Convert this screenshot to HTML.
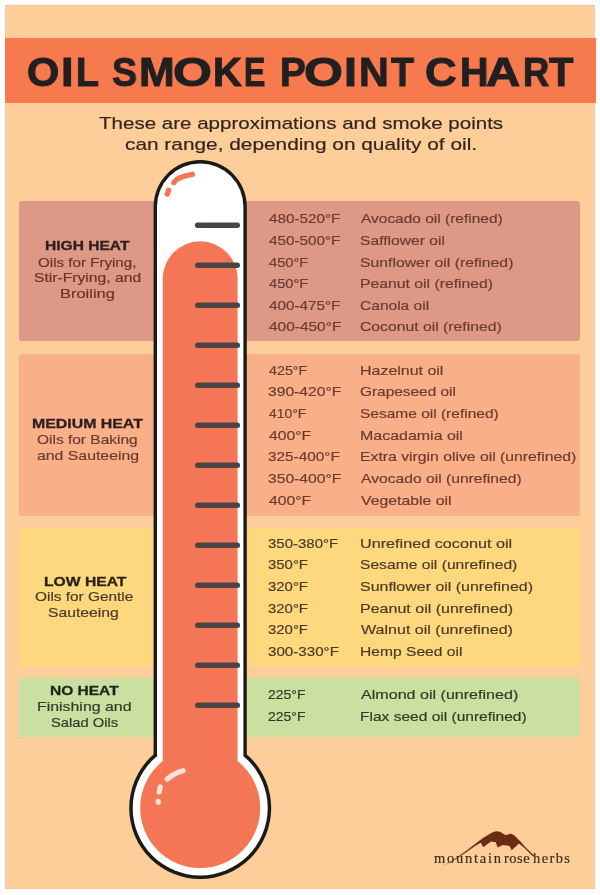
<!DOCTYPE html>
<html><head><meta charset="utf-8">
<style>
html,body{margin:0;padding:0;}
body{width:600px;height:895px;overflow:hidden;background:#fdfdfd;position:relative;font-family:"Liberation Sans",sans-serif;}
.abs{position:absolute;}
.t{position:absolute;will-change:transform;-webkit-text-stroke:0.18px currentColor;line-height:20px;white-space:nowrap;transform-origin:0 50%;}
</style></head><body>
<div class="abs" style="left:5px;top:5px;width:590px;height:884px;background:#fdce9a;box-shadow:inset 0 0 0 1px #f1cca0, 0 -1px 0 #fef6e6"></div>
<div class="abs" style="left:5px;top:38px;width:591px;height:65px;background:#f77a4e"></div>
<div class="abs" style="left:19px;top:201px;width:561px;height:139.5px;background:#de9886;border-radius:3px"></div>
<div class="abs" style="left:19px;top:353.5px;width:561px;height:162.5px;background:#f9af88;border-radius:3px"></div>
<div class="abs" style="left:19px;top:528px;width:561px;height:138px;background:#fed87e;border-radius:3px"></div>
<div class="abs" style="left:19px;top:678px;width:561px;height:58.5px;background:#c9e0a1;border-radius:3px"></div>

<svg class='abs' style='left:0;top:0' width='600' height='895'><path fill='#6b2a16' d='M441.5 866.5 Q455 860 475 844 L483.3 837.7 L491.7 832.7 Q496.7 830.5 500 831.8 L505.8 835.2 L510 833.7 Q512 833.5 514.2 835.2 L520 841 L525 846.8 L534.5 856 L533 856.5 L525 848.5 L519 843.5 L511.7 850.2 L509.5 846 L503 845 L497.5 847.5 L495.8 842.3 L491 841.5 L483.3 847.3 L480.8 842.7 L475 846 Q455 861 441.5 866.5 Z'/></svg>
<div class="t" style="left:26.63px;top:62.44px;font-size:40px;font-weight:bold;color:#231f20;-webkit-text-stroke:1.0px currentColor;transform:scaleX(1.0357)">O</div>
<div class="t" style="left:61.12px;top:62.44px;font-size:40px;font-weight:bold;color:#231f20;-webkit-text-stroke:1.0px currentColor;transform:scaleX(1.1250)">I</div>
<div class="t" style="left:75.94px;top:62.44px;font-size:40px;font-weight:bold;color:#231f20;-webkit-text-stroke:1.0px currentColor;transform:scaleX(0.9375)">L</div>
<div class="t" style="left:111.56px;top:62.44px;font-size:40px;font-weight:bold;color:#231f20;-webkit-text-stroke:1.0px currentColor;transform:scaleX(0.9375)">S</div>
<div class="t" style="left:139.29px;top:62.44px;font-size:40px;font-weight:bold;color:#231f20;-webkit-text-stroke:1.0px currentColor;transform:scaleX(1.0714)">M</div>
<div class="t" style="left:172.50px;top:62.44px;font-size:40px;font-weight:bold;color:#231f20;-webkit-text-stroke:1.0px currentColor;transform:scaleX(1.2500)">O</div>
<div class="t" style="left:213.25px;top:62.44px;font-size:40px;font-weight:bold;color:#231f20;-webkit-text-stroke:1.0px currentColor;transform:scaleX(1.0000)">K</div>
<div class="t" style="left:243.86px;top:62.44px;font-size:40px;font-weight:bold;color:#231f20;-webkit-text-stroke:1.0px currentColor;transform:scaleX(0.7955)">E</div>
<div class="t" style="left:279.60px;top:62.44px;font-size:40px;font-weight:bold;color:#231f20;-webkit-text-stroke:1.0px currentColor;transform:scaleX(0.9659)">P</div>
<div class="t" style="left:303.75px;top:62.44px;font-size:40px;font-weight:bold;color:#231f20;-webkit-text-stroke:1.0px currentColor;transform:scaleX(1.2500)">O</div>
<div class="t" style="left:344.00px;top:62.44px;font-size:40px;font-weight:bold;color:#231f20;-webkit-text-stroke:1.0px currentColor;transform:scaleX(1.1667)">I</div>
<div class="t" style="left:359.40px;top:62.44px;font-size:40px;font-weight:bold;color:#231f20;-webkit-text-stroke:1.0px currentColor;transform:scaleX(1.0326)">N</div>
<div class="t" style="left:391.25px;top:62.44px;font-size:40px;font-weight:bold;color:#231f20;-webkit-text-stroke:1.0px currentColor;transform:scaleX(0.9375)">T</div>
<div class="t" style="left:425.31px;top:62.44px;font-size:40px;font-weight:bold;color:#231f20;-webkit-text-stroke:1.0px currentColor;transform:scaleX(1.0962)">C</div>
<div class="t" style="left:459.75px;top:62.44px;font-size:40px;font-weight:bold;color:#231f20;-webkit-text-stroke:1.0px currentColor;transform:scaleX(0.9826)">H</div>
<div class="t" style="left:485.51px;top:62.44px;font-size:40px;font-weight:bold;color:#231f20;-webkit-text-stroke:1.0px currentColor;transform:scaleX(1.1852)">A</div>
<div class="t" style="left:522.58px;top:62.44px;font-size:40px;font-weight:bold;color:#231f20;-webkit-text-stroke:1.0px currentColor;transform:scaleX(0.9080)">R</div>
<div class="t" style="left:549.30px;top:62.44px;font-size:40px;font-weight:bold;color:#231f20;-webkit-text-stroke:1.0px currentColor;transform:scaleX(1.0000)">T</div>
<div class="t" style="left:99.00px;top:113.61px;font-size:17px;color:#33241d;transform:scaleX(1.2081)">These are approximations and smoke points</div>
<div class="t" style="left:124.57px;top:134.51px;font-size:17px;color:#33241d;transform:scaleX(1.2253)">can range, depending on quality of oil.</div>
<div class="t" style="left:45.25px;top:236.42px;font-size:13.5px;font-weight:bold;color:#2a1e1e;-webkit-text-stroke:0.3px currentColor;transform:scaleX(1.1528)">HIGH HEAT</div>
<div class="t" style="left:37.85px;top:252.53px;font-size:13.2px;color:#6a3328;transform:scaleX(1.1476)">Oils for Frying,</div>
<div class="t" style="left:34.21px;top:268.33px;font-size:13.2px;color:#6a3328;transform:scaleX(1.1886)">Stir-Frying, and</div>
<div class="t" style="left:60.35px;top:283.53px;font-size:13.2px;color:#6a3328;transform:scaleX(1.2476)">Broiling</div>
<div class="t" style="left:32.12px;top:414.12px;font-size:13.5px;font-weight:bold;color:#2a1e1e;-webkit-text-stroke:0.3px currentColor;transform:scaleX(1.1763)">MEDIUM HEAT</div>
<div class="t" style="left:36.73px;top:430.33px;font-size:13.2px;color:#6a3a2e;transform:scaleX(1.1738)">Oils for Baking</div>
<div class="t" style="left:36.70px;top:445.93px;font-size:13.2px;color:#6a3a2e;transform:scaleX(1.2000)">and Sauteeing</div>
<div class="t" style="left:43.64px;top:571.62px;font-size:13.5px;font-weight:bold;color:#2a2218;-webkit-text-stroke:0.3px currentColor;transform:scaleX(1.1600)">LOW HEAT</div>
<div class="t" style="left:35.33px;top:587.43px;font-size:13.2px;color:#4a3a20;transform:scaleX(1.1663)">Oils for Gentle</div>
<div class="t" style="left:48.41px;top:602.63px;font-size:13.2px;color:#4a3a20;transform:scaleX(1.1922)">Sauteeing</div>
<div class="t" style="left:49.85px;top:681.02px;font-size:13.5px;font-weight:bold;color:#1e261a;-webkit-text-stroke:0.3px currentColor;transform:scaleX(1.1483)">NO HEAT</div>
<div class="t" style="left:37.30px;top:697.43px;font-size:13.2px;color:#2e3a24;transform:scaleX(1.2045)">Finishing and</div>
<div class="t" style="left:50.58px;top:712.63px;font-size:13.2px;color:#2e3a24;transform:scaleX(1.1186)">Salad Oils</div>
<div class="t" style="left:269.40px;top:209.22px;font-size:13.5px;color:#6b3a30;transform:scaleX(1.1286)">480-520°F</div>
<div class="t" style="left:361.00px;top:209.22px;font-size:13.5px;color:#6b3a30;transform:scaleX(1.1463)">Avocado oil (refined)</div>
<div class="t" style="left:269.40px;top:230.86px;font-size:13.5px;color:#6b3a30;transform:scaleX(1.1286)">450-500°F</div>
<div class="t" style="left:359.84px;top:230.86px;font-size:13.5px;color:#6b3a30;transform:scaleX(1.1592)">Safflower oil</div>
<div class="t" style="left:269.40px;top:252.50px;font-size:13.5px;color:#6b3a30;transform:scaleX(1.0861)">450°F</div>
<div class="t" style="left:359.83px;top:252.50px;font-size:13.5px;color:#6b3a30;transform:scaleX(1.1682)">Sunflower oil (refined)</div>
<div class="t" style="left:269.40px;top:274.14px;font-size:13.5px;color:#6b3a30;transform:scaleX(1.0861)">450°F</div>
<div class="t" style="left:359.83px;top:274.14px;font-size:13.5px;color:#6b3a30;transform:scaleX(1.1670)">Peanut oil (refined)</div>
<div class="t" style="left:269.40px;top:295.78px;font-size:13.5px;color:#6b3a30;transform:scaleX(1.1286)">400-475°F</div>
<div class="t" style="left:359.85px;top:295.78px;font-size:13.5px;color:#6b3a30;transform:scaleX(1.1517)">Canola oil</div>
<div class="t" style="left:269.40px;top:317.42px;font-size:13.5px;color:#6b3a30;transform:scaleX(1.1444)">400-450°F</div>
<div class="t" style="left:359.83px;top:317.42px;font-size:13.5px;color:#6b3a30;transform:scaleX(1.1650)">Coconut oil (refined)</div>
<div class="t" style="left:269.40px;top:360.70px;font-size:13.5px;color:#6b3a2e;transform:scaleX(1.0583)">425°F</div>
<div class="t" style="left:359.82px;top:360.70px;font-size:13.5px;color:#6b3a2e;transform:scaleX(1.1826)">Hazelnut oil</div>
<div class="t" style="left:268.24px;top:382.34px;font-size:13.5px;color:#6b3a2e;transform:scaleX(1.1597)">390-420°F</div>
<div class="t" style="left:359.86px;top:382.34px;font-size:13.5px;color:#6b3a2e;transform:scaleX(1.1415)">Grapeseed oil</div>
<div class="t" style="left:269.40px;top:403.98px;font-size:13.5px;color:#6b3a2e;transform:scaleX(1.0333)">410°F</div>
<div class="t" style="left:359.85px;top:403.98px;font-size:13.5px;color:#6b3a2e;transform:scaleX(1.1479)">Sesame oil (refined)</div>
<div class="t" style="left:269.40px;top:425.62px;font-size:13.5px;color:#6b3a2e;transform:scaleX(1.1667)">400°F</div>
<div class="t" style="left:359.82px;top:425.62px;font-size:13.5px;color:#6b3a2e;transform:scaleX(1.1824)">Macadamia oil</div>
<div class="t" style="left:268.26px;top:447.26px;font-size:13.5px;color:#6b3a2e;transform:scaleX(1.1371)">325-400°F</div>
<div class="t" style="left:359.83px;top:447.26px;font-size:13.5px;color:#6b3a2e;transform:scaleX(1.1667)">Extra virgin olive oil (unrefined)</div>
<div class="t" style="left:268.24px;top:468.90px;font-size:13.5px;color:#6b3a2e;transform:scaleX(1.1597)">350-400°F</div>
<div class="t" style="left:361.00px;top:468.90px;font-size:13.5px;color:#6b3a2e;transform:scaleX(1.1594)">Avocado oil (unrefined)</div>
<div class="t" style="left:269.40px;top:490.54px;font-size:13.5px;color:#6b3a2e;transform:scaleX(1.1667)">400°F</div>
<div class="t" style="left:361.00px;top:490.54px;font-size:13.5px;color:#6b3a2e;transform:scaleX(1.1711)">Vegetable oil</div>
<div class="t" style="left:268.29px;top:533.82px;font-size:13.5px;color:#4a3a22;transform:scaleX(1.1113)">350-380°F</div>
<div class="t" style="left:359.80px;top:533.82px;font-size:13.5px;color:#4a3a22;transform:scaleX(1.2000)">Unrefined coconut oil</div>
<div class="t" style="left:268.29px;top:555.46px;font-size:13.5px;color:#4a3a22;transform:scaleX(1.1057)">350°F</div>
<div class="t" style="left:359.84px;top:555.46px;font-size:13.5px;color:#4a3a22;transform:scaleX(1.1582)">Sesame oil (unrefined)</div>
<div class="t" style="left:268.29px;top:577.10px;font-size:13.5px;color:#4a3a22;transform:scaleX(1.1057)">320°F</div>
<div class="t" style="left:359.82px;top:577.10px;font-size:13.5px;color:#4a3a22;transform:scaleX(1.1819)">Sunflower oil (unrefined)</div>
<div class="t" style="left:268.29px;top:598.74px;font-size:13.5px;color:#4a3a22;transform:scaleX(1.1057)">320°F</div>
<div class="t" style="left:359.81px;top:598.74px;font-size:13.5px;color:#4a3a22;transform:scaleX(1.1866)">Peanut oil (unrefined)</div>
<div class="t" style="left:268.29px;top:620.38px;font-size:13.5px;color:#4a3a22;transform:scaleX(1.1057)">320°F</div>
<div class="t" style="left:361.00px;top:620.38px;font-size:13.5px;color:#4a3a22;transform:scaleX(1.1890)">Walnut oil (unrefined)</div>
<div class="t" style="left:268.28px;top:642.02px;font-size:13.5px;color:#4a3a22;transform:scaleX(1.1226)">300-330°F</div>
<div class="t" style="left:359.84px;top:642.02px;font-size:13.5px;color:#4a3a22;transform:scaleX(1.1563)">Hemp Seed oil</div>
<div class="t" style="left:268.36px;top:685.30px;font-size:13.5px;color:#2e3a24;transform:scaleX(1.0371)">225°F</div>
<div class="t" style="left:361.00px;top:685.30px;font-size:13.5px;color:#2e3a24;transform:scaleX(1.1908)">Almond oil (unrefined)</div>
<div class="t" style="left:268.36px;top:706.94px;font-size:13.5px;color:#2e3a24;transform:scaleX(1.0371)">225°F</div>
<div class="t" style="left:359.85px;top:706.94px;font-size:13.5px;color:#2e3a24;transform:scaleX(1.1503)">Flax seed oil (unrefined)</div>
<div class="t" style="left:434.00px;top:847.61px;font-size:14.5px;color:#3c2a1c;font-family:'Liberation Serif',serif;letter-spacing:1.75px;transform:scaleX(1.0000)">mountain</div>
<div class="t" style="left:504.00px;top:847.61px;font-size:14.5px;color:#3c2a1c;font-family:'Liberation Serif',serif;letter-spacing:0.5px;transform:scaleX(1.0000)">rose</div>
<div class="t" style="left:532.50px;top:847.61px;font-size:14.5px;color:#3c2a1c;font-family:'Liberation Serif',serif;letter-spacing:1.4px;transform:scaleX(1.0000)">herbs</div>
<svg class="abs" style="left:0;top:0" width="600" height="895" viewBox="0 0 600 895">
<path d="M153.6 755 L153.6 206.6 A46.6 46.6 0 0 1 246.79999999999998 206.6 L246.79999999999998 755 Z" fill="#1c1a17"/>
<circle cx="200.2" cy="808" r="71" fill="#1c1a17"/>
<path d="M157.0 760 L157.0 206.6 A43.2 43.2 0 0 1 243.39999999999998 206.6 L243.39999999999998 760 Z" fill="#ffffff"/>
<circle cx="200.2" cy="808" r="67.5" fill="#ffffff"/>
<path d="M162.79999999999998 765 L162.79999999999998 278.7 A37.4 37.4 0 0 1 237.6 278.7 L237.6 765 Z" fill="#f57657"/>
<circle cx="200.2" cy="808" r="60" fill="#f57657"/>
<g stroke="#4a4544" stroke-width="5.4" stroke-linecap="round"><line x1="197.6" y1="225.3" x2="237.3" y2="225.3"/><line x1="197.6" y1="265.3" x2="237.3" y2="265.3"/><line x1="197.6" y1="305.3" x2="237.3" y2="305.3"/><line x1="197.6" y1="345.3" x2="237.3" y2="345.3"/><line x1="197.6" y1="385.3" x2="237.3" y2="385.3"/><line x1="197.6" y1="425.3" x2="237.3" y2="425.3"/><line x1="197.6" y1="465.3" x2="237.3" y2="465.3"/><line x1="197.6" y1="505.3" x2="237.3" y2="505.3"/><line x1="197.6" y1="545.3" x2="237.3" y2="545.3"/><line x1="197.6" y1="585.3" x2="237.3" y2="585.3"/><line x1="197.6" y1="625.3" x2="237.3" y2="625.3"/><line x1="197.6" y1="665.3" x2="237.3" y2="665.3"/><line x1="197.6" y1="705.3" x2="237.3" y2="705.3"/></g>
<g fill='none' stroke='#f57657' stroke-width='5.4' stroke-linecap='round'><path d='M173.9 182.6 Q176.8 176.9 192.4 174.3'/><path d='M168.6 190.2 L167.2 194'/></g><g fill='none' stroke='#fde3d8' stroke-width='5.3' stroke-linecap='round'><path d='M167.3 779 A40 40 0 0 1 183 770.8'/><path d='M160.2 787 L159.2 792'/><path d='M158.2 801.5 L158.2 802'/></g>

</svg>
</body></html>
